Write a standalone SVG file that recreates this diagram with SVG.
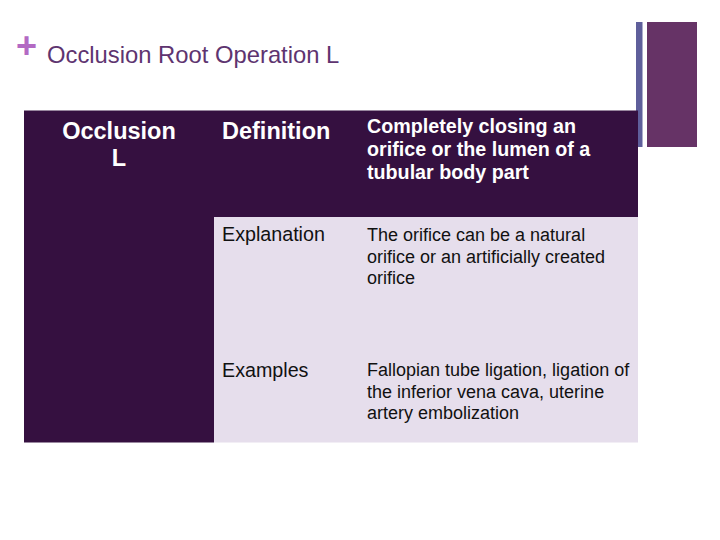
<svg xmlns="http://www.w3.org/2000/svg" width="720" height="540" viewBox="0 0 720 540">
<style>
.t{font-family:"Liberation Sans",Arial,sans-serif}
.hb{font-weight:bold;font-size:23.5px;fill:#ffffff}
.hb3{font-weight:bold;font-size:19.7px;fill:#ffffff}
.c2{font-size:19.7px;fill:#111111}
.c3{font-size:18px;fill:#111111}
.dark{fill:#351040}
.light{fill:#E6DEEC}
</style>
<rect width="720" height="540" fill="#ffffff"/>
<g id="header">
<text class="t" x="16" y="58" font-size="36" font-weight="bold" fill="#B369C3">+</text>
<text class="t" x="47" y="63" font-size="23.8" fill="#5E3470">Occlusion Root Operation L</text>
</g>
<g id="decor">
<rect x="636" y="22" width="6.5" height="125" fill="#5F5F9B"/>
<rect x="647" y="22" width="50" height="125" fill="#663366"/>
</g>
<g id="table">
<rect class="dark" x="24" y="110.5" width="614" height="106.5"/>
<rect class="dark" x="24" y="217" width="190" height="225.5"/>
<rect class="light" x="214" y="217" width="424" height="225.5"/>
</g>
<g id="cell-occlusion">
<text class="t hb" x="119" y="139.3" text-anchor="middle">Occlusion</text>
<text class="t hb" x="119" y="166" text-anchor="middle">L</text>
</g>
<g id="cell-definition">
<text class="t hb" x="222" y="139.3">Definition</text>
</g>
<g id="cell-definition-text">
<text class="t hb3" x="367" y="133">Completely closing an</text>
<text class="t hb3" x="367" y="156">orifice or the lumen of a</text>
<text class="t hb3" x="367" y="179">tubular body part</text>
</g>
<g id="cell-explanation">
<text class="t c2" x="222" y="241">Explanation</text>
</g>
<g id="cell-explanation-text">
<text class="t c3" x="367" y="241">The orifice can be a natural</text>
<text class="t c3" x="367" y="262.5">orifice or an artificially created</text>
<text class="t c3" x="367" y="284">orifice</text>
</g>
<g id="cell-examples">
<text class="t c2" x="222" y="377">Examples</text>
</g>
<g id="cell-examples-text">
<text class="t c3" x="367" y="376">Fallopian tube ligation, ligation of</text>
<text class="t c3" x="367" y="397.6">the inferior vena cava, uterine</text>
<text class="t c3" x="367" y="419.2">artery embolization</text>
</g>
<g id="connectors"></g>
</svg>
